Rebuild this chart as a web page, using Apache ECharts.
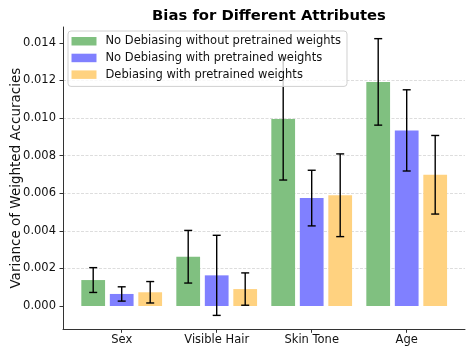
<!DOCTYPE html>
<html>
<head>
<meta charset="utf-8">
<script src="https://cdn.jsdelivr.net/npm/echarts@6/dist/echarts.min.js"></script>
<style>
html,body{margin:0;padding:0;background:#fff;}
#chart{width:474px;height:355px;}
</style>
</head>
<body>
<div id="chart"></div>
<script>
// ---- data ----
const categories = ['Sex', 'Visible Hair', 'Skin Tone', 'Age'];
const seriesNames = [
  'No Debiasing without pretrained weights',
  'No Debiasing with pretrained weights',
  'Debiasing with pretrained weights'
];
const noDebNoPre    = [0.00138, 0.00262, 0.00994, 0.01192];
const noDebNoPreErr = [0.00066, 0.00140, 0.00324, 0.00230];
const noDebPre      = [0.00064, 0.00163, 0.00574, 0.00934];
const noDebPreErr   = [0.00038, 0.00213, 0.00148, 0.00216];
const debPre        = [0.00073, 0.00090, 0.00589, 0.00698];
const debPreErr     = [0.00057, 0.00086, 0.00220, 0.00209];
const yTicks = [0, 0.002, 0.004, 0.006, 0.008, 0.010, 0.012, 0.014];

// ---- styling ----
const FONT = 'DejaVu Sans';
const colors = ['#80c080', '#8080ff', '#ffd280'];
const values = [noDebNoPre, noDebPre, debPre];
const errors = [noDebNoPreErr, noDebPreErr, debPreErr];
const yMin = -0.00124, yMax = 0.01484;
const stepFrac = 0.3;

const chart = echarts.init(document.getElementById('chart'), null, {renderer: 'canvas'});

const series = [];
values.forEach((vals, i) => {
  series.push({
    type: 'bar', name: seriesNames[i], xAxisIndex: 1, yAxisIndex: 1,
    data: vals, barWidth: 23.75, barGap: '20%',
    itemStyle: {color: colors[i]}, z: 2
  });
});
values.forEach((vals, i) => {
  const offset = (i - 1) * stepFrac;
  series.push({
    type: 'custom', xAxisIndex: 1, yAxisIndex: 1, z: 5,
    data: vals.map((v, k) => [k, v, errors[i][k]]),
    renderItem: function (params, api) {
      const x = api.value(0), m = api.value(1), e = api.value(2);
      const band = api.size([1, 0])[0];
      const t = api.coord([x, m + e]);
      const b = api.coord([x, m - e]);
      const cx = t[0] + offset * band;
      const cap = 4;
      const st = {stroke: '#000', lineWidth: 1.4};
      return {type: 'group', children: [
        {type: 'line', shape: {x1: cx, y1: t[1], x2: cx, y2: b[1]}, style: st},
        {type: 'line', shape: {x1: cx - cap, y1: t[1], x2: cx + cap, y2: t[1]}, style: st},
        {type: 'line', shape: {x1: cx - cap, y1: b[1], x2: cx + cap, y2: b[1]}, style: st}
      ]};
    }
  });
});

chart.setOption({
  animation: false,
  textStyle: {fontFamily: FONT},
  title: {
    text: 'Bias for Different Attributes', left: 264, top: 4, textAlign: 'center',
    textStyle: {fontFamily: FONT, fontWeight: 'bold', fontSize: 14.8, color: '#000'}
  },
  legend: {
    data: seriesNames, orient: 'vertical', left: 68, top: 31, z: 10,
    backgroundColor: 'rgba(255,255,255,0.8)', borderColor: '#d0d0d0', borderWidth: 1,
    borderRadius: 3, padding: [3.5, 6, 5, 3.5], itemGap: 3.2,
    itemWidth: 25, itemHeight: 8.5, icon: 'rect',
    textStyle: {fontFamily: FONT, fontSize: 11.5, color: '#111', lineHeight: 13.5, padding: [0, 0, 0, 4]}
  },
  grid: [
    {left: 63, right: 9, top: 27, bottom: 25.7, containLabel: false, outerBoundsMode: 'none'},
    {left: 74.2, right: 19.8, top: 27, bottom: 25.7, containLabel: false, outerBoundsMode: 'none'}
  ],
  xAxis: [
    {gridIndex: 0, type: 'value', min: 0, max: 1,
     axisLine: {show: true, onZero: false, lineStyle: {color: '#333', width: 1}},
     axisTick: {show: false}, axisLabel: {show: false}, splitLine: {show: false}},
    {gridIndex: 1, type: 'category', data: categories,
     axisLine: {show: false, onZero: false},
     axisTick: {show: true, alignWithLabel: true, length: 3.5, lineStyle: {color: '#333'}},
     axisLabel: {fontFamily: FONT, fontSize: 11.5, color: '#111', margin: 5}}
  ],
  yAxis: [
    {gridIndex: 0, type: 'value', min: yMin, max: yMax, splitNumber: 8,
     name: 'Variance of Weighted Accuracies', nameLocation: 'middle', nameGap: 40,
     nameMoveOverlap: false,
     nameTextStyle: {fontFamily: FONT, fontSize: 13.5, color: '#111'},
     axisLine: {show: true, onZero: false, lineStyle: {color: '#333', width: 1}},
     axisTick: {show: true, length: 3.5, customValues: yTicks, lineStyle: {color: '#333'}},
     axisLabel: {fontFamily: FONT, fontSize: 11.5, color: '#111', margin: 7,
       customValues: yTicks, formatter: v => v.toFixed(3)},
     splitLine: {show: true, showMinLine: false, showMaxLine: false,
       lineStyle: {color: '#d4d4d4', type: [3, 1.5], width: 0.8}}},
    {gridIndex: 1, type: 'value', min: yMin, max: yMax, show: false, splitLine: {show: false}}
  ],
  series: series
});
</script>
</body>
</html>
